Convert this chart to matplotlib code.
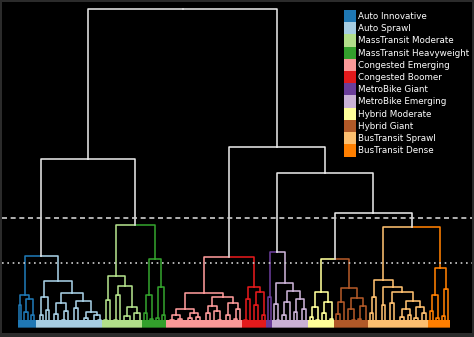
import matplotlib
matplotlib.use('Agg')
import matplotlib.pyplot as plt
from matplotlib.patches import Patch

cluster_names = ['Auto Innovative', 'Auto Sprawl', 'MassTransit Moderate',
                 'MassTransit Heavyweight', 'Congested Emerging', 'Congested Boomer',
                 'MetroBike Giant', 'MetroBike Emerging', 'Hybrid Moderate',
                 'Hybrid Giant', 'BusTransit Sprawl', 'BusTransit Dense']
cluster_colors = ['#1f78b4', '#a6cee3', '#b2df8a', '#33a02c', '#fb9a99', '#e31a1c',
                  '#6a3d9a', '#cab2d6', '#ffff99', '#b15928', '#fdbf6f', '#ff7f00']

# Upper tree: (merge height, left, right); ints = cluster index
upper_tree = (318, (168, (71, 0, 1), (102, 2, 3)),
              (180, (70, 4, 5), (154, (75, 6, 7), (114, (68, 8, 9), (100, 10, 11)))))

# Sub-trees: (height, left, right); 0 = single leaf; [h1, h2, ...] = ladder of leaves
tree_auto_innovative = (32, [22], (28, (15, [3], [5]), (12, 0, [6])))
tree_auto_sprawl = (46, (30, (12, [3, 6], 0), (17, [4], 0)),
                    (34, (24, (13, [2, 5], [3]), (16, [4, 7], [2])),
                     (26, (19, [3, 6], [2]), (15, (9, [2, 4], [3]), (12, [2, 5], [3, 7])))))
tree_mass_moderate = (51, (27, [3, 7], [4]),
                      (41, (32, [3, 7], [4]), (20, (11, [2], [3, 6]), (14, [4], [2, 5]))))
tree_mass_heavy = (68, (32, (14, [3], 0), [4, 8]), (40, [5, 9], (12, [3], 0)))
tree_cong_emerging = (34, (18, (12, (7, [2, 4], [3]), (8, [2], [3])),
                           (14, (9, [3, 5], [2]), (10, [2], [4]))),
                      (30, (21, (14, [3, 6], [2]), (16, [4], [3, 7])),
                       (24, (12, [2, 5], [3]), (18, [4, 8], [2]))))
tree_cong_boomer = (40, (28, [3, 7], [4]), (35, (22, [3], [2]), [5, 12]))
tree_metro_giant = (30, [6], 0)
tree_metro_emerging = (44, (23, [4], [7]),
                       (36, (25, (12, [2], [3]), [5]), (28, (15, [3], 0), (18, [4, 6], [2]))))
tree_hybrid_moderate = (35, (20, (10, [3], 0), [4, 7]), (25, (14, [2], [3]), [4, 8]))
tree_hybrid_giant = (39, (25, (13, [3], [2]), [6]),
                     (29, (18, [3], [2, 7]), (21, [4, 8], [3, 5])))
tree_bus_sprawl = (47, (30, (14, [3], 0), [4]),
                   (40, (22, [3, 6], 0),
                    (35, (24, [2, 5], [3]),
                     (26, (18, (10, [2, 5], [3]), (12, [4], 0)),
                      (20, (9, [2], [3]), (14, [4], [2]))))))
tree_bus_dense = (59, (32, (16, [4], 0), [5, 9]), (38, [6, 11], [4]))

sub_trees = [tree_auto_innovative, tree_auto_sprawl, tree_mass_moderate, tree_mass_heavy,
             tree_cong_emerging, tree_cong_boomer, tree_metro_giant, tree_metro_emerging,
             tree_hybrid_moderate, tree_hybrid_giant, tree_bus_sprawl, tree_bus_dense]

cut_dashed = 109
cut_dotted = 64

WHITE = '#e6e6e6'
LW = 1.15

fig = plt.figure(figsize=(4.74, 3.37), dpi=100, facecolor='#2b2b2b')
ax = fig.add_axes([2 / 474, 4 / 337, 470 / 474, 331 / 337])
ax.set_facecolor('black')

leaf_x = []
leaf_c = []


def col(c):
    return WHITE if c < 0 else cluster_colors[c]


def link(a, b, h):
    xa, ha, ca = a
    xb, hb, cb = b
    xm = (xa + xb) / 2
    ax.plot([xa, xa, xm], [ha, h, h], color=col(ca), lw=LW)
    ax.plot([xm, xb, xb], [h, h, hb], color=col(cb), lw=LW)
    return (xm, h, ca if ca == cb else -1)


def new_leaf(c):
    x = len(leaf_x)
    leaf_x.append(x)
    leaf_c.append(c)
    return (x, 0, c)


def build_sub(node, c):
    if isinstance(node, list):
        cur = new_leaf(c)
        for h in node:
            cur = link(cur, new_leaf(c), h)
        return cur
    if isinstance(node, tuple):
        h, a, b = node
        ra = build_sub(a, c)
        rb = build_sub(b, c)
        return link(ra, rb, h)
    return new_leaf(c)


def build_upper(node):
    if isinstance(node, int):
        return build_sub(sub_trees[node], node)
    h, a, b = node
    ra = build_upper(a)
    rb = build_upper(b)
    return link(ra, rb, h)


build_upper(upper_tree)

# colour strip under the leaves
ax.bar(leaf_x, 7, width=1.0, bottom=0, color=[cluster_colors[c] for c in leaf_c],
       linewidth=0)

ax.axhline(cut_dashed, color='#cfcfcf', lw=1.2, ls=(0, (3, 2.2)))
ax.axhline(cut_dotted, color='#cfcfcf', lw=1.2, ls=(0, (1, 2.2)))

ax.set_xlim(-8.5, 226.5)
ax.set_ylim(-6, 325)
ax.set_xticks([])
ax.set_yticks([])
for s in ax.spines.values():
    s.set_visible(False)

handles = [Patch(facecolor=c, edgecolor='none') for c in cluster_colors]
ax.legend(handles, cluster_names, loc='upper left', bbox_to_anchor=(0.7277, 0.9758),
          frameon=False, fontsize=6.3, labelcolor='white', handlelength=1.35,
          handleheight=1.77, handletextpad=0.3, labelspacing=0.0, borderpad=0,
          borderaxespad=0)

fig.savefig('out.png', dpi=100, facecolor=fig.get_facecolor())
